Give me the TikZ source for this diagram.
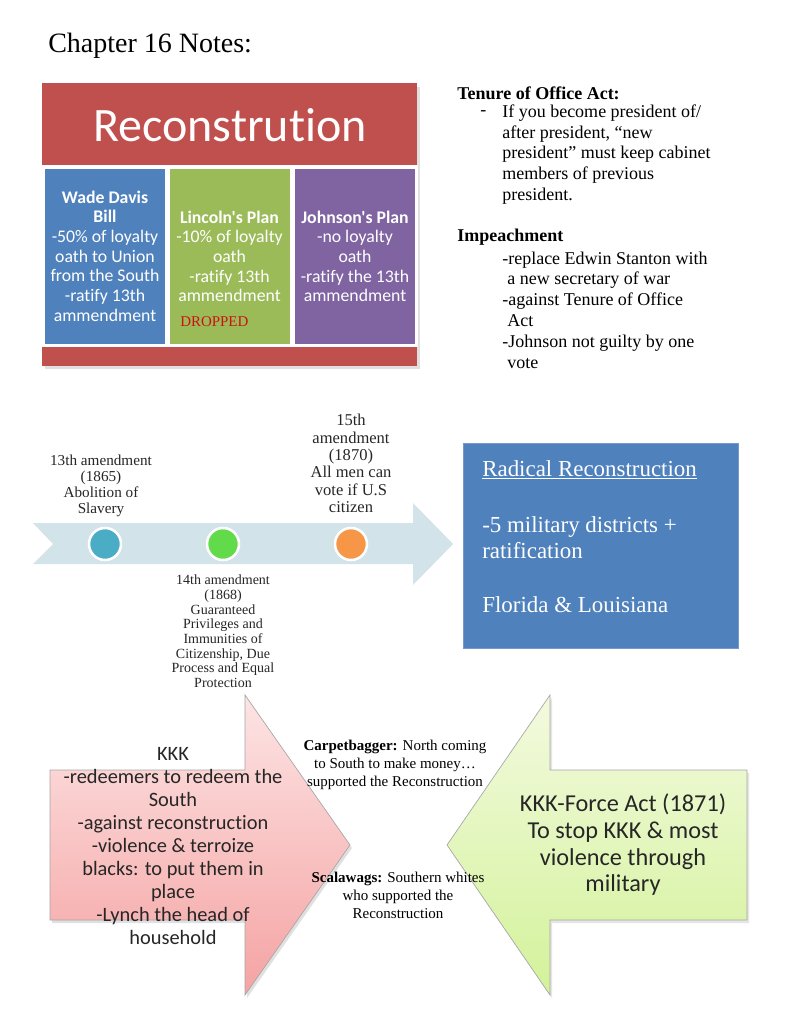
\documentclass[tikz,border=0pt]{standalone}
\usepackage{fontspec}
\setmainfont{Liberation Serif}
\newfontfamily\calib[Ligatures={NoCommon}]{Carlito}
\definecolor{recred}{HTML}{C0504D}
\definecolor{wblue}{HTML}{4F81BD}
\definecolor{lgreen}{HTML}{9BBB59}
\definecolor{jpurple}{HTML}{8064A2}
\definecolor{tlband}{HTML}{D3E3EA}
\definecolor{cblue}{HTML}{4BACC6}
\definecolor{cgreen}{HTML}{62DB4A}
\definecolor{corange}{HTML}{F79646}
\definecolor{dropred}{HTML}{CC1111}
\definecolor{pinktop}{HTML}{FDE4E4}
\definecolor{pinkbot}{HTML}{F5A3A3}
\definecolor{greentop}{HTML}{F3FADF}
\definecolor{greenbot}{HTML}{D3F29A}
\tikzset{
  colbox/.style={rectangle, inner sep=0pt, minimum width=90pt, minimum height=131.25pt},
  coltext/.style={text=white, align=center, inner sep=0pt, font=\calib\fontsize{13.3}{14.75}\selectfont},
  dot/.style={circle, draw=white, line width=1.9pt, minimum size=24pt, inner sep=0pt},
  tltext/.style={align=center, inner sep=0pt, text=black!85},
  notes/.style={align=left, inner sep=0pt, font=\fontsize{13.5}{15.6}\selectfont},
  radtext/.style={align=left, inner sep=0pt, text=white, font=\fontsize{17.2}{19.5}\selectfont},
  bigarrow/.style={draw=black!35, line width=0.5pt},
  arrtext/.style={align=center, inner sep=0pt, text=black!85},
  defn/.style={align=center, inner sep=0pt, font=\fontsize{11.25}{13.5}\selectfont}
}
\begin{document}
\begin{tikzpicture}[x=0.75pt,y=-0.75pt]
\useasboundingbox[fill=white] (0,0) rectangle (791,1023);

% title
\node[anchor=base west, inner sep=0pt, font=\fontsize{21}{25}\selectfont] (title) at (48,53) {Chapter 16 Notes:};

% Reconstruction box
\fill[black!12] (45,87) rectangle (420,369);
\fill[recred] (42,83) rectangle (417,366);
\fill[white] (42,165) rectangle (418,347);
\node[anchor=base, inner sep=0pt, text=white, font=\calib\fontsize{36}{40}\selectfont] (rtitle) at (230,142) {Reconstrution};
\node[colbox, fill=wblue] (cwade) at (105,256.5) {};
\node[colbox, fill=lgreen] (clinc) at (229.5,256.5) {};
\node[colbox, fill=jpurple] (cjohn) at (355,256.5) {};
\node[coltext] (twade) at (105,256) {\bfseries Wade Davis\\\bfseries Bill\\-50\% of loyalty\\oath to Union\\from the South\\-ratify 13th\\ammendment};
\node[coltext] (tlinc) at (229.5,256.5) {\bfseries Lincoln's Plan\\-10\% of loyalty\\oath\\-ratify 13th\\ammendment};
\node[coltext] (tjohn) at (355,256.5) {\bfseries Johnson's Plan\\-no loyalty\\oath\\-ratify the 13th\\ammendment};
\node[anchor=west, inner sep=0pt, text=dropred, font=\fontsize{11.2}{13}\selectfont] (dropped) at (180,322) {DROPPED};

% Tenure notes
\node[anchor=west, inner sep=0pt, font=\bfseries\fontsize{13.5}{15.6}\selectfont] (tenure) at (457,93) {Tenure of Office Act:};
\node[anchor=west, inner sep=0pt, font=\fontsize{13.5}{15.6}\selectfont] (dash) at (480,113) {-};
\node[notes, anchor=west] (tenuretxt) at (502,154.5) {If you become president of/\\after president, “new\\president” must keep cabinet\\members of previous\\president.};
\node[anchor=west, inner sep=0pt, font=\bfseries\fontsize{13.5}{15.6}\selectfont] (impeach) at (457,237) {Impeachment};
\node[notes, anchor=west] (impeachtxt) at (502,310) {-replace Edwin Stanton with\\\hspace*{3.8pt}a new secretary of war\\-against Tenure of Office\\\hspace*{3.8pt}Act\\-Johnson not guilty by one\\\hspace*{3.8pt}vote};

% Timeline
\fill[tlband] (33,523) -- (413,523) -- (413,503) -- (453,544) -- (413,585) -- (413,564) -- (33,564) -- (53,544) -- cycle;
\node[dot, fill=cblue] (d13) at (105,544) {};
\node[dot, fill=cgreen] (d14) at (223,544) {};
\node[dot, fill=corange] (d15) at (351,544) {};
\node[tltext, font=\fontsize{11.4}{12}\selectfont] (t13) at (101,485.5) {13th amendment\\(1865)\\Abolition of\\Slavery};
\node[tltext, font=\fontsize{12.4}{13}\selectfont] (t15) at (351,463.5) {15th\\amendment\\(1870)\\All men can\\vote if U.S\\citizen};
\node[tltext, font=\fontsize{10.5}{11}\selectfont] (t14) at (223,631.5) {14th amendment\\(1868)\\Guaranteed\\Privileges and\\Immunities of\\Citizenship, Due\\Process and Equal\\Protection};

% Radical Reconstruction box
\node[rectangle, fill=wblue, draw=wblue!80!white, line width=0.6pt, minimum width=206.25pt, minimum height=153.75pt, inner sep=0pt] (radical) at (600.5,545.5) {};
\node[radtext, anchor=west] (radtitle) at (482,470) {\underline{Radical Reconstruction}};
\node[radtext, anchor=west] (radmil) at (482,538) {-5 military districts +\\ratification};
\node[radtext, anchor=west] (radfl) at (482,605) {Florida \& Louisiana};

% KKK arrow (pink, pointing right)
\fill[black!12] (52,773) -- (247,773) -- (247,698) -- (352,848) -- (247,998) -- (247,923) -- (52,923) -- cycle;
\shade[bigarrow, top color=pinktop, bottom color=pinkbot] (50,770) -- (245,770) -- (245,695) -- (350,845) -- (245,995) -- (245,920) -- (50,920) -- cycle;
% Force act arrow (green, pointing left)
\fill[black!10] (749,773) -- (552,773) -- (552,698) -- (449,848) -- (552,998) -- (552,923) -- (749,923) -- cycle;
\shade[bigarrow, top color=greentop, bottom color=greenbot] (747,770) -- (550,770) -- (550,695) -- (447,845) -- (550,995) -- (550,920) -- (747,920) -- cycle;

\node[arrtext, font=\calib\fontsize{15.3}{17.25}\selectfont] (kkk) at (173,846) {KKK\\-redeemers to redeem the\\South\\-against reconstruction\\-violence \& terroize\\blacks: to put them in\\place\\-Lynch the head of\\household};
\node[arrtext, font=\calib\fontsize{18.2}{20}\selectfont] (force) at (623,845) {KKK-Force Act (1871)\\To stop KKK \& most\\violence through\\military};

\node[defn] (carpet) at (395,765) {\textbf{Carpetbagger:} North coming\\to South to make money…\\supported the Reconstruction};
\node[defn] (scala) at (398,895.5) {\textbf{Scalawags:} Southern whites\\who supported the\\Reconstruction};
\end{tikzpicture}
\end{document}
